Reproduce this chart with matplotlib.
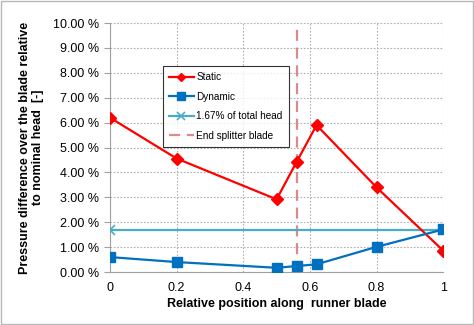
import matplotlib
matplotlib.use("Agg")
import matplotlib.pyplot as plt
from matplotlib.ticker import FuncFormatter, MultipleLocator
from matplotlib.patches import Rectangle

plt.rcParams['font.family'] = ['Liberation Sans', 'DejaVu Sans']

# positions along the runner blade
pos = [0, 0.2, 0.5, 0.56, 0.62, 0.8, 1]
static = [6.2, 4.56, 2.92, 4.42, 5.9, 3.4, 0.86]
dynamic = [0.6, 0.4, 0.17, 0.24, 0.31, 1.01, 1.71]
head_x = [0, 1]
head_y = [1.67, 1.67]
splitter_x = 0.56

fig = plt.figure(figsize=(4.74, 3.25), dpi=100)
ax = fig.add_axes([0.232, 0.163, 0.703, 0.766])

ax.plot(pos, static, color='#ff0000', lw=1.6, marker='D', ms=6,
        label='Static', zorder=4)
ax.plot(pos, dynamic, color='#0070c0', lw=1.6, marker='s', ms=7,
        label='Dynamic', zorder=4)
ax.plot(head_x, head_y, color='#4bacc6', lw=1.6, marker='x', ms=7,
        mew=1.2, label='1.67% of total head', zorder=3)
ax.axvline(splitter_x, color='#d98b8b', lw=1.6, ls=(0, (5, 3)),
           label='End splitter blade', zorder=2)

ax.set_xlim(0, 1)
ax.set_ylim(0, 10)
ax.xaxis.set_major_locator(MultipleLocator(0.2))
ax.yaxis.set_major_locator(MultipleLocator(1))
ax.xaxis.set_major_formatter(FuncFormatter(lambda v, p: '%g' % round(v, 1)))
ax.yaxis.set_major_formatter(FuncFormatter(lambda v, p: '%.2f %%' % v))
ax.grid(True, color='#b0b0b0', ls=(0, (1.5, 1.5)), lw=0.8)

for s in ['top', 'right']:
    ax.spines[s].set_visible(False)
for s in ['left', 'bottom']:
    ax.spines[s].set_color('#a0a0a0')
ax.tick_params(axis='y', length=4, color='#a0a0a0', labelsize=9, pad=4)
ax.tick_params(axis='x', length=0, labelsize=9, pad=7)

ax.set_xlabel('Relative position along  runner blade', fontsize=9,
              fontweight='bold', labelpad=3)
ax.set_ylabel('Pressure difference over the blade relative\nto nominal head  [-]',
              fontsize=9, fontweight='bold', labelpad=6, linespacing=1.2)

leg = ax.legend(loc='upper left', bbox_to_anchor=(0.159, 0.827), fontsize=7.2,
                frameon=True, fancybox=False, edgecolor='black',
                handlelength=2.5, borderpad=0.6, labelspacing=0.95,
                handletextpad=0.25, markerscale=0.75, borderaxespad=0)
leg.get_frame().set_linewidth(0.8)

fig.patches.append(Rectangle((0.002, 0.003), 0.996, 0.994,
                             transform=fig.transFigure, fill=False,
                             edgecolor='#b8b8b8', lw=1))

fig.savefig('out.png', dpi=100)
